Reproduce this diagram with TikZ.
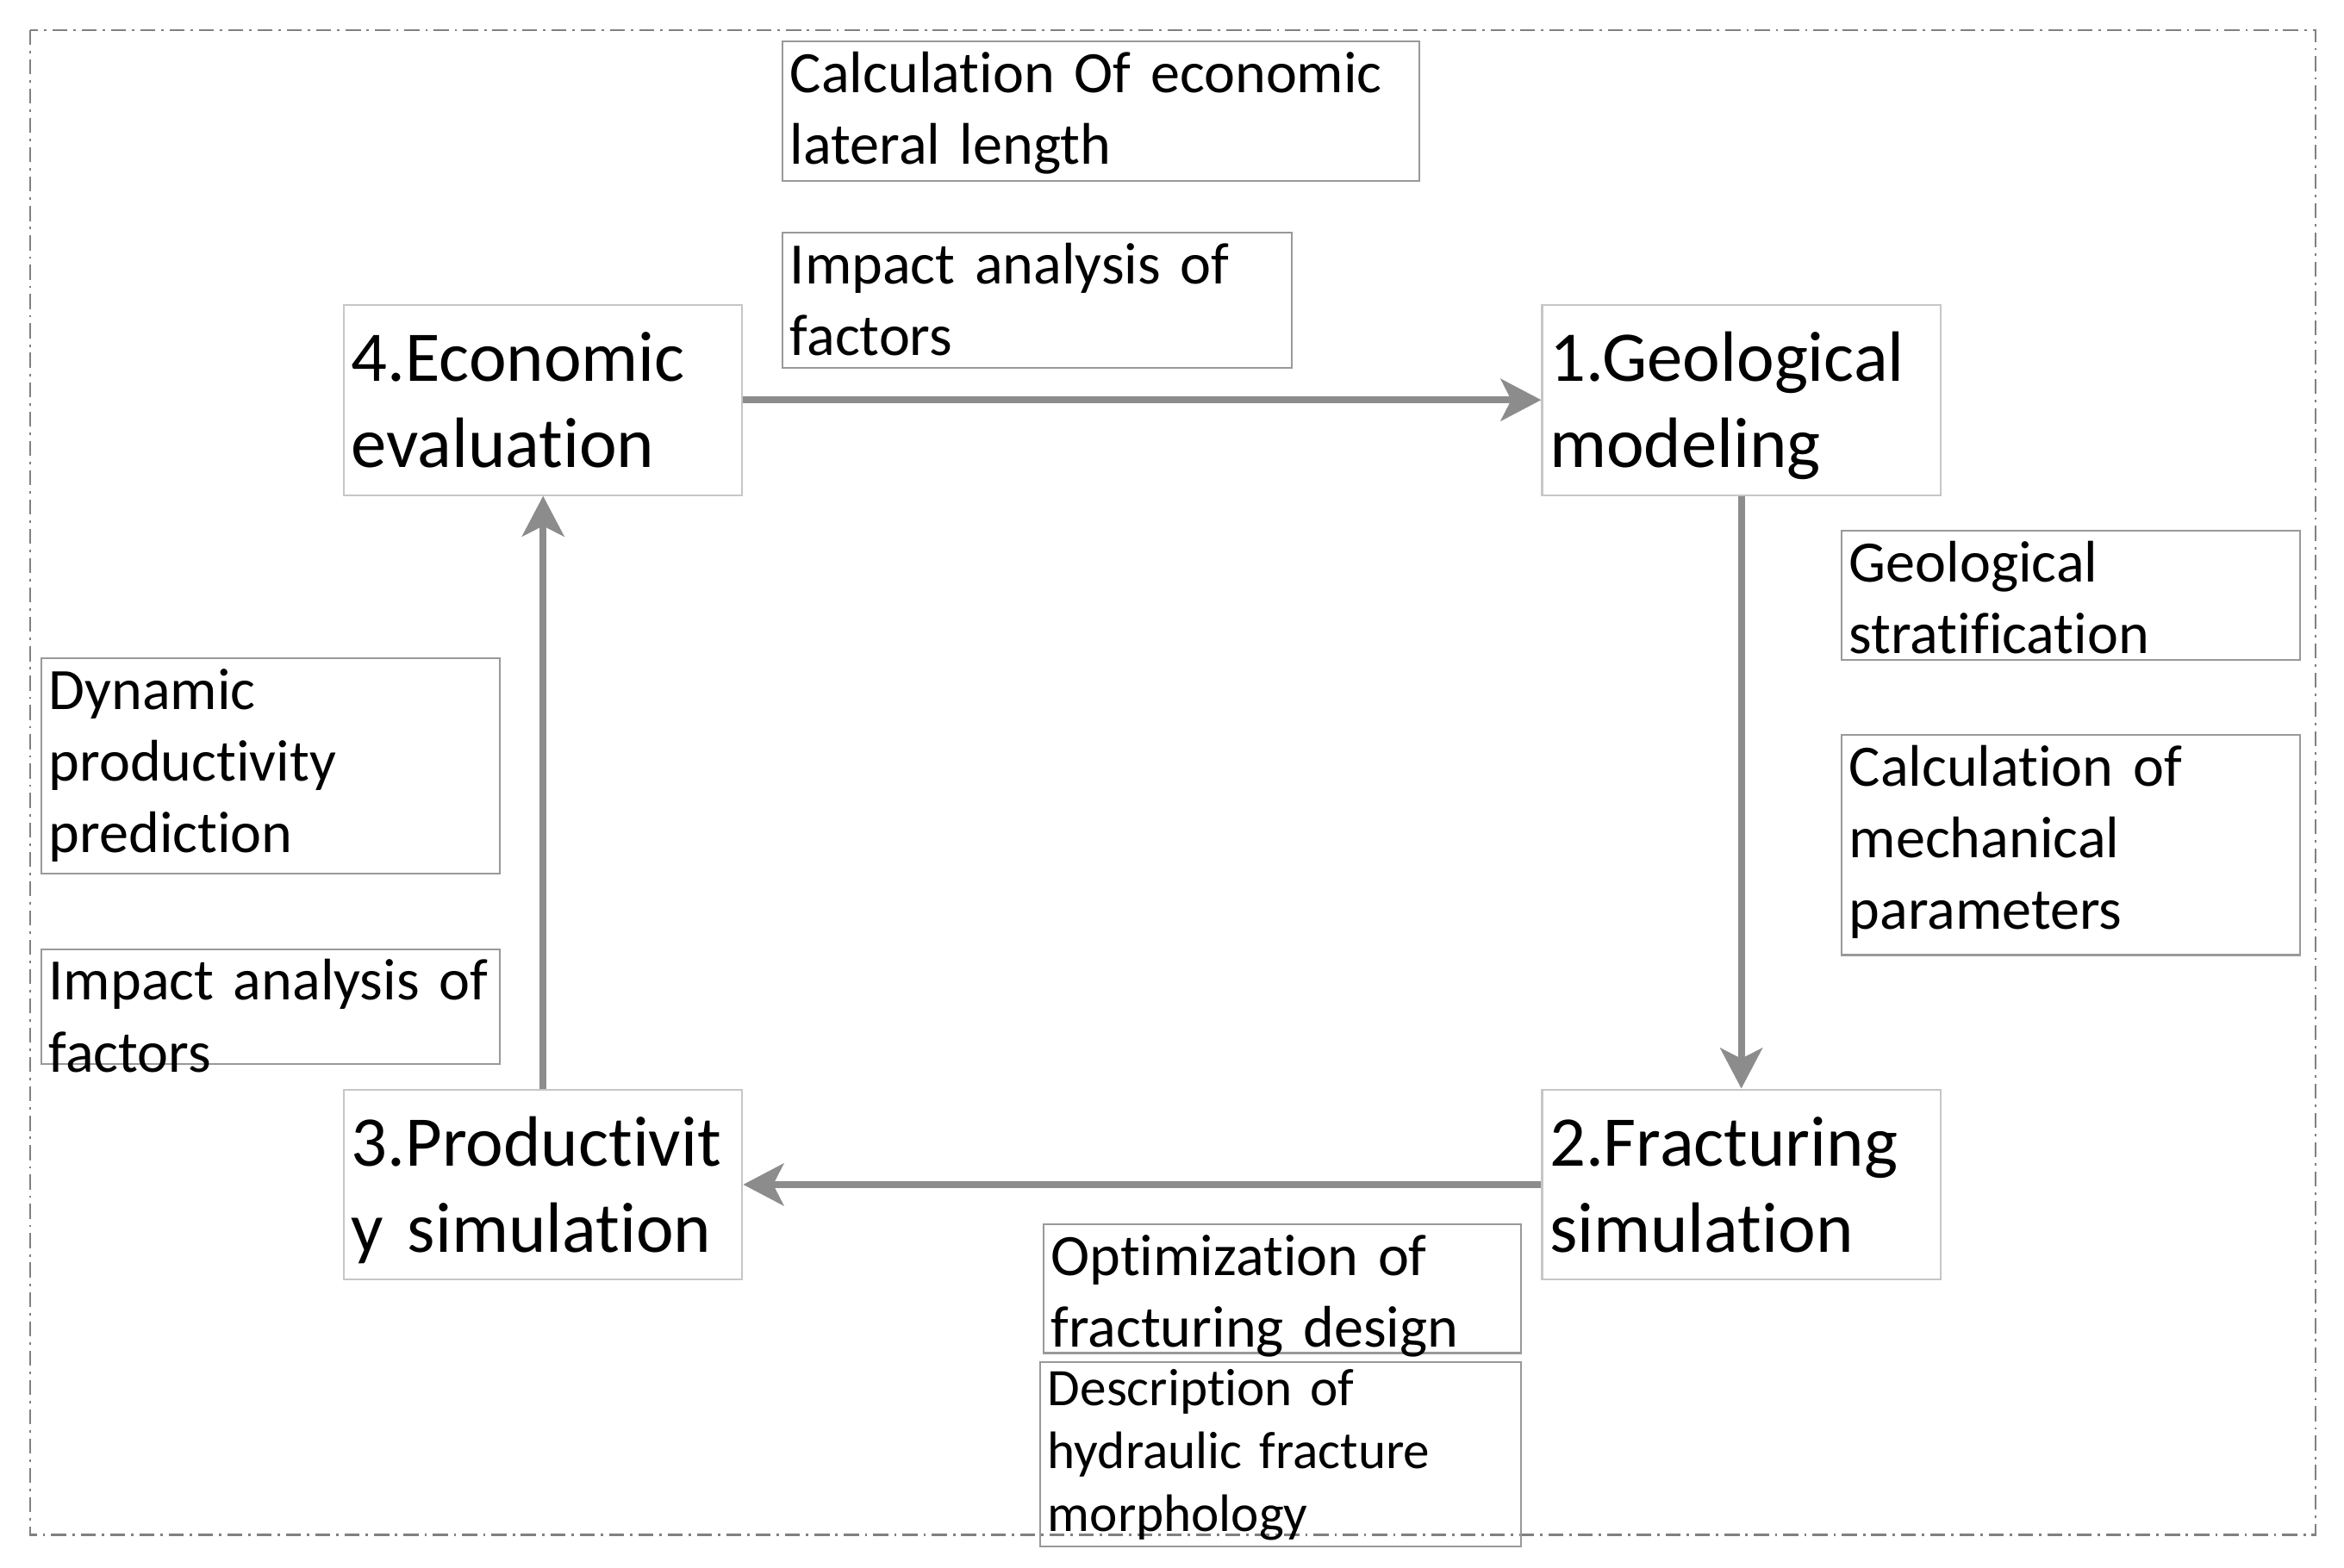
\documentclass[tikz,border=0pt]{standalone}
\usepackage{fontspec}
\setmainfont[Ligatures=NoCommon,WordSpace=0.8]{Carlito}
\usetikzlibrary{arrows.meta,positioning}
\begin{document}
\begin{tikzpicture}[x=0.5pt,y=-0.5pt]
        \tikzset{
            base/.style={
                anchor=north west, align=left, inner xsep=2.5pt, inner ysep=0pt
            },
            small/.style 2 args={
                base, draw=gray!80, line width=0.6pt,
                text width=#1-5pt, text height=17pt, text depth=#2-17pt,
                font=\fontsize{19.6pt}{24pt}\selectfont
            },
            stage/.style={
                base, draw=gray!45, line width=0.6pt,
                text width=128pt, text height=25.5pt, text depth=63.5pt-25.5pt,
                font=\fontsize{23.8pt}{28.75pt}\selectfont
            },
            flow/.style={
                -{Stealth[length=13.5pt,width=14pt,inset=3.5pt]},
                line width=2.3pt, draw=black!45, fill=black!45
            }
        }
        \useasboundingbox (0,0) rectangle (1565,1047);
        \draw[gray, line width=0.6pt, dash pattern=on 5pt off 2pt on 0.8pt off 2pt]
        (20,20) rectangle (1546,1025);
        % stages
        \node[stage] (eco) at (229,203) {4.Economic\\evaluation};
        \node[stage] (geo) at (1029,203) {1.Geological\\modeling};
        \node[stage] (frac) at (1029,727) {2.Fracturing\\simulation};
        \node[stage] (prod) at (229,727) {3.Productivit\\y simulation};
        % tasks
        \node[small={212.5pt}{46.5pt}] (calc) at (522,27) {Calculation Of economic\\lateral length};
        \node[small={170pt}{45pt}] (impTop) at (522,155) {Impact analysis of\\factors};
        \node[small={153pt}{43pt}] (strat) at (1229,354) {Geological\\stratification};
        \node[small={153pt}{73.5pt}, below right=24.5pt and 0pt of strat.south west] (mech) {Calculation of\\mechanical\\parameters};
        \node[small={153pt}{72pt}] (dyn) at (27,439) {Dynamic\\productivity\\prediction};
        \node[small={153pt}{38.5pt}, below right=24.5pt and 0pt of dyn.south west] (impLeft) {Impact analysis of\\factors};
        \node[small={159.5pt}{43pt}] (opt) at (696,817) {Optimization of\\fracturing design};
        \node[small={160.5pt}{61.5pt}, text height=14.5pt, text depth=61.5pt-14.5pt,
            font=\fontsize{17.6pt}{21pt}\selectfont,
            below right=2.5pt and -1pt of opt.south west] (desc) {Description of\\hydraulic fracture\\morphology};
        % cycle
        \draw[flow] (eco.east) -- (geo.west);
        \draw[flow] (geo.south) -- (frac.north);
        \draw[flow] (frac.west) -- (prod.east);
        \draw[flow] (prod.north) -- (eco.south);
    \end{tikzpicture}
\end{document}
